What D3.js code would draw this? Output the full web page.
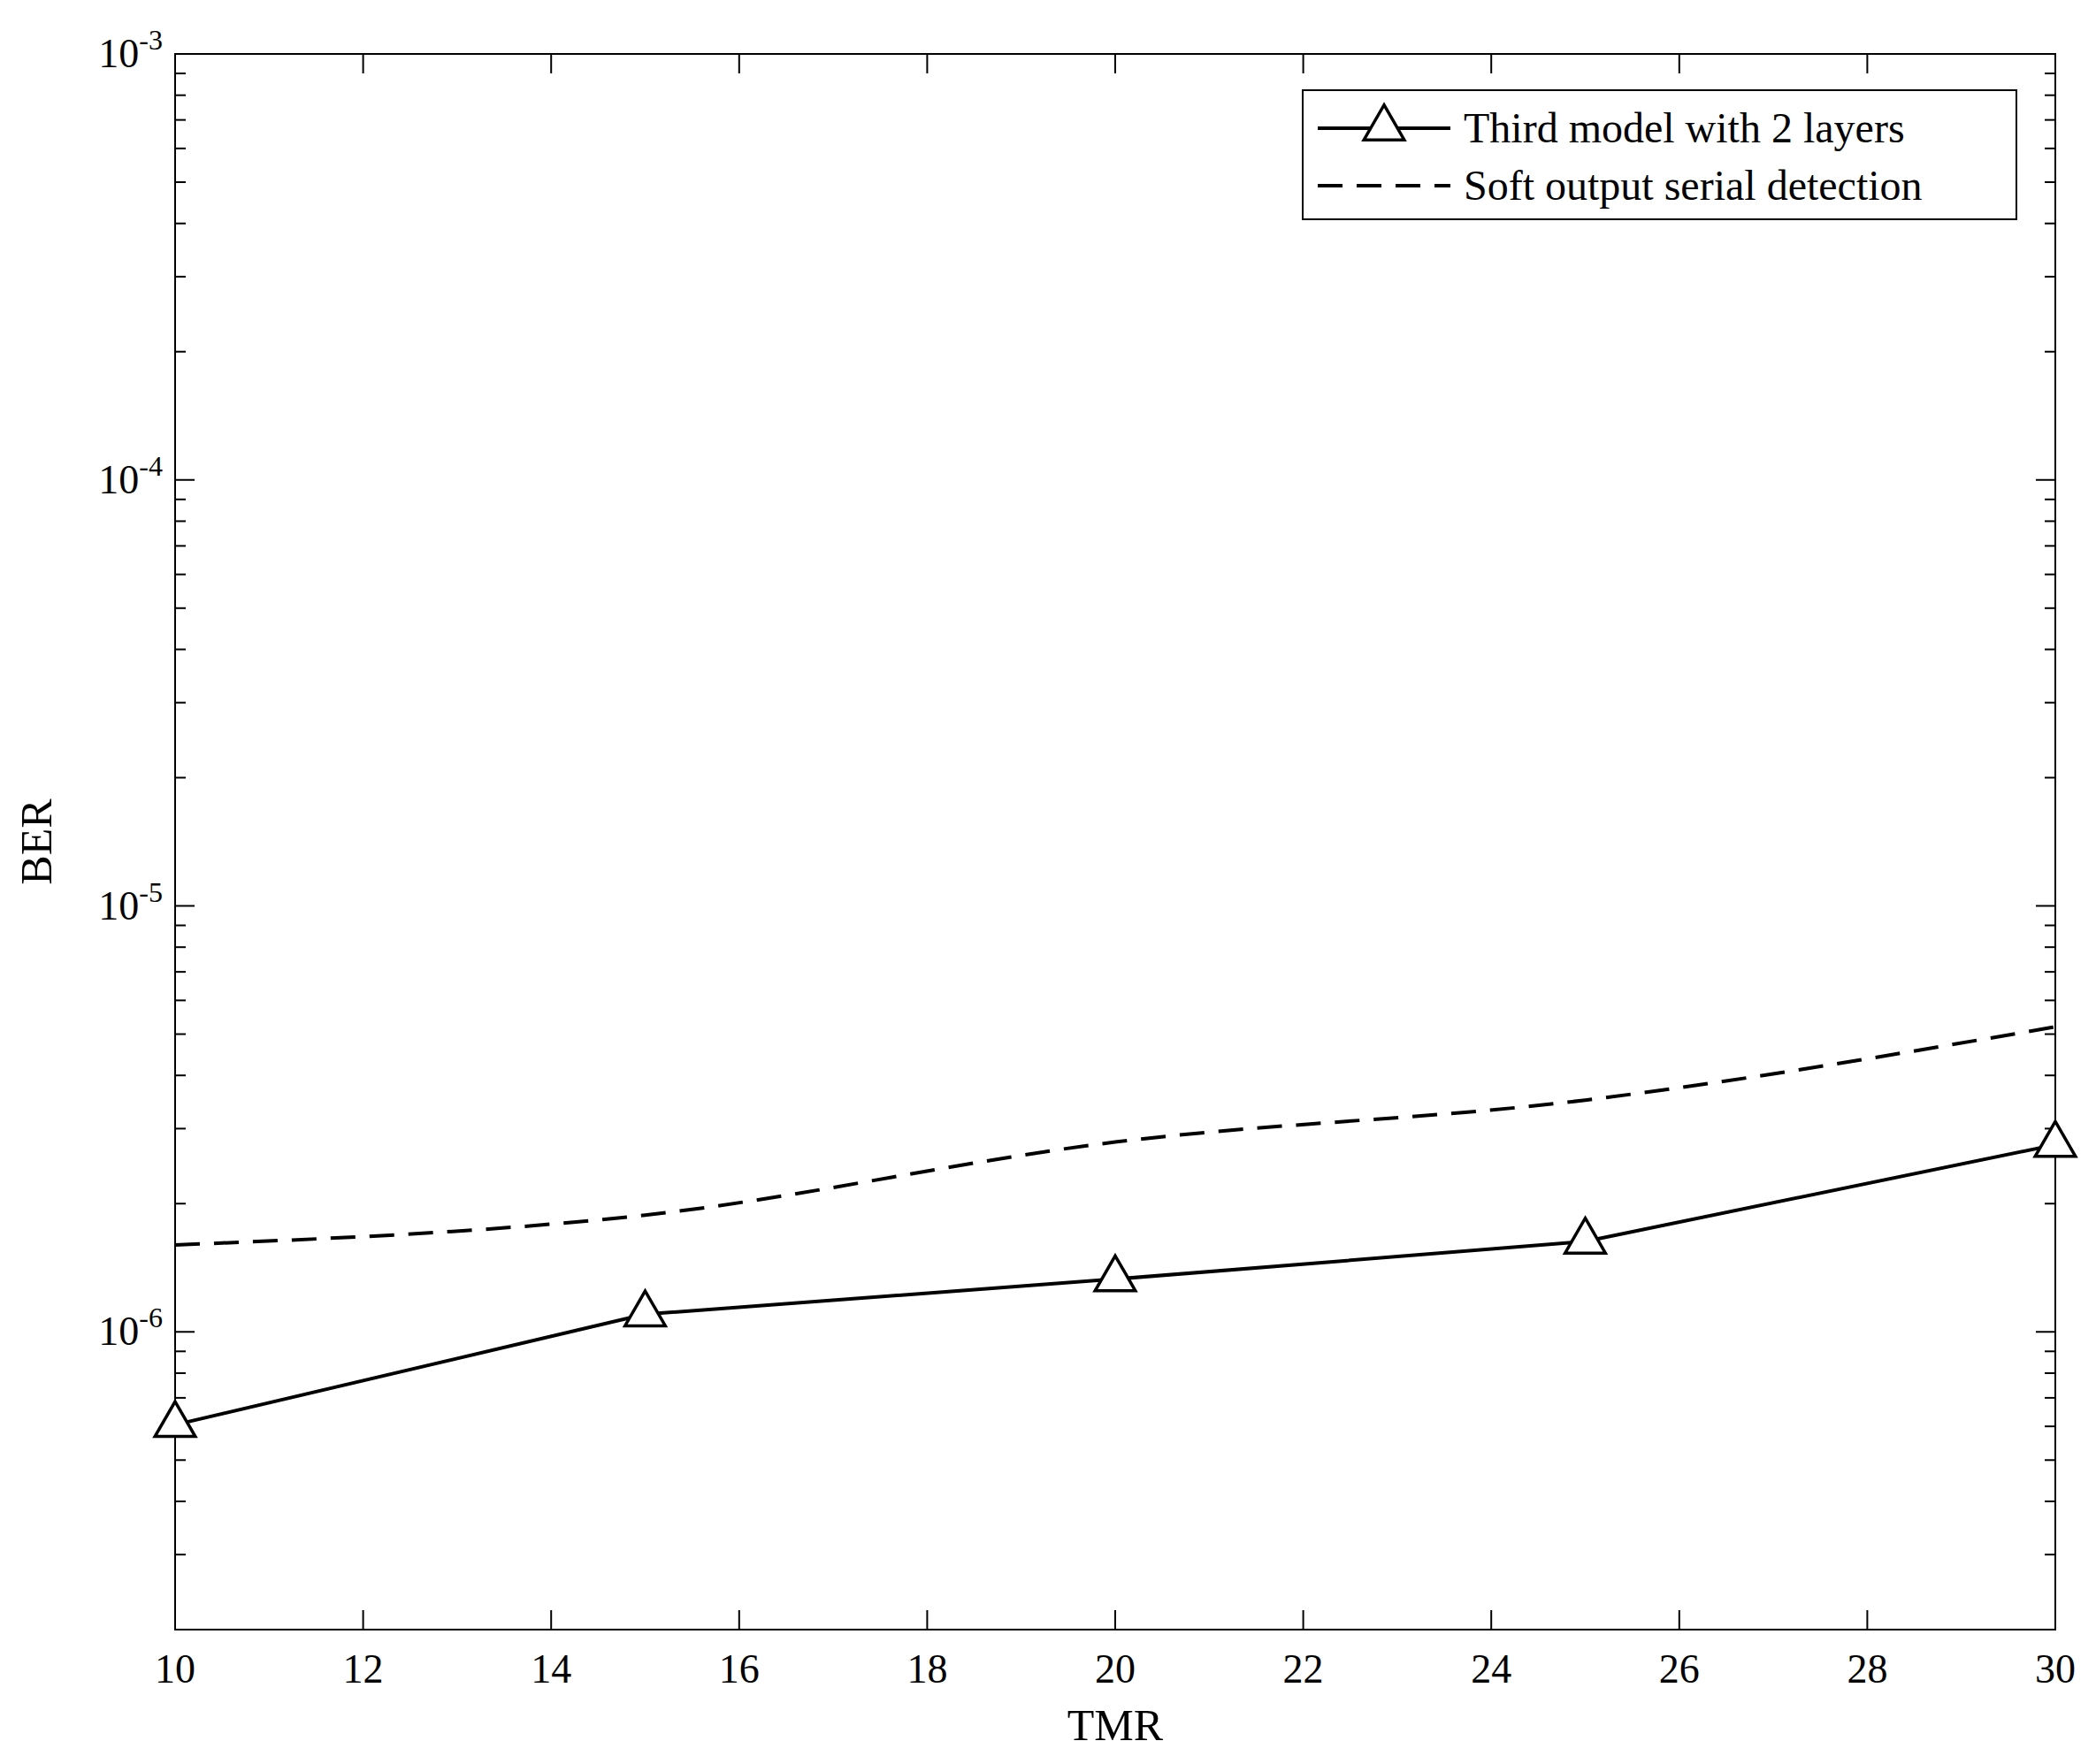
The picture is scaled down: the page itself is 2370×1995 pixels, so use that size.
<!DOCTYPE html>
<html><head><meta charset="utf-8">
<script src="https://cdn.jsdelivr.net/npm/d3@7"></script>
<style>body{margin:0;background:#fff}text{font-family:"Liberation Serif","Times New Roman",serif;fill:#000}</style>
</head><body><svg id="chart" width="2370" height="1995"></svg>
<script>
// data
const tmr = [10, 15, 20, 25, 30];
const thirdModel = [6.05e-7, 1.1e-6, 1.33e-6, 1.63e-6, 2.75e-6];
const softSerial = [1.6e-6, 1.88e-6, 2.79e-6, 3.5e-6, 5.2e-6];
const xTicks = [10, 12, 14, 16, 18, 20, 22, 24, 26, 28, 30];
const yDecades = [-6, -5, -4, -3];
const seriesNames = ["Third model with 2 layers", "Soft output serial detection"];

const svg = d3.select("#chart");
const m = {l: 198, r: 2324, t: 61, b: 1843};
const x = d3.scaleLinear().domain([10, 30]).range([m.l, m.r]);
const y = d3.scaleLog().domain([2e-7, 1e-3]).range([m.b, m.t]);

// minor log ticks
var minors = [];
for (var e = -7; e < -3; e++) for (var k = 2; k <= 9; k++) {
  var v = k * Math.pow(10, e);
  if (v >= 2e-7 && v <= 1e-3) minors.push(v);
}
var g = svg.append("g").attr("stroke", "#000").attr("stroke-width", 2);
minors.forEach(function(v) {
  g.append("line").attr("x1", m.l).attr("x2", m.l + 12).attr("y1", y(v)).attr("y2", y(v));
  g.append("line").attr("x1", m.r).attr("x2", m.r - 12).attr("y1", y(v)).attr("y2", y(v));
});
yDecades.forEach(function(d) {
  var v = Math.pow(10, d);
  g.append("line").attr("x1", m.l).attr("x2", m.l + 22).attr("y1", y(v)).attr("y2", y(v));
  g.append("line").attr("x1", m.r).attr("x2", m.r - 22).attr("y1", y(v)).attr("y2", y(v));
  var t = svg.append("text").attr("x", m.l - 14).attr("y", y(v) + 15).attr("text-anchor", "end").style("font-size", "46px");
  t.append("tspan").text("10");
  t.append("tspan").attr("dy", -20).style("font-size", "32px").text(d);
});
xTicks.forEach(function(v) {
  g.append("line").attr("x1", x(v)).attr("x2", x(v)).attr("y1", m.b).attr("y2", m.b - 22);
  g.append("line").attr("x1", x(v)).attr("x2", x(v)).attr("y1", m.t).attr("y2", m.t + 22);
  svg.append("text").attr("x", x(v)).attr("y", m.b + 60).attr("text-anchor", "middle").style("font-size", "46px").text(v);
});
svg.append("rect").attr("x", m.l).attr("y", m.t).attr("width", m.r - m.l).attr("height", m.b - m.t)
  .attr("fill", "none").attr("stroke", "#000").attr("stroke-width", 2);

svg.append("text").attr("x", (m.l + m.r) / 2).attr("y", 1968).attr("text-anchor", "middle").style("font-size", "50px").text("TMR");
svg.append("text").attr("transform", "translate(58," + ((m.t + m.b) / 2) + ") rotate(-90)").attr("text-anchor", "middle").style("font-size", "50px").text("BER");

var line1 = d3.line().x(function(d, i) { return x(tmr[i]); }).y(function(d) { return y(d); });
var line2 = d3.line().curve(d3.curveMonotoneX).x(function(d, i) { return x(tmr[i]); }).y(function(d) { return y(d); });
svg.append("path").datum(softSerial).attr("d", line2).attr("fill", "none").attr("stroke", "#000").attr("stroke-width", 4).attr("stroke-dasharray", "28,16");
svg.append("path").datum(thirdModel).attr("d", line1).attr("fill", "none").attr("stroke", "#000").attr("stroke-width", 4);

var tri = d3.symbol().type(d3.symbolTriangle).size(900);
svg.selectAll(".mk").data(thirdModel).enter().append("path")
  .attr("transform", function(d, i) { return "translate(" + x(tmr[i]) + "," + y(d) + ")"; })
  .attr("d", tri).attr("fill", "#fff").attr("stroke", "#000").attr("stroke-width", 3.5);

// legend
var lg = svg.append("g");
lg.append("rect").attr("x", 1473).attr("y", 102).attr("width", 807).attr("height", 146).attr("fill", "#fff").attr("stroke", "#000").attr("stroke-width", 2);
lg.append("line").attr("x1", 1490).attr("x2", 1640).attr("y1", 145).attr("y2", 145).attr("stroke", "#000").attr("stroke-width", 4);
lg.append("path").attr("transform", "translate(1565,145)").attr("d", tri).attr("fill", "#fff").attr("stroke", "#000").attr("stroke-width", 3.5);
lg.append("line").attr("x1", 1490).attr("x2", 1640).attr("y1", 210).attr("y2", 210).attr("stroke", "#000").attr("stroke-width", 4).attr("stroke-dasharray", "28,16");
seriesNames.forEach(function(n, i) {
  lg.append("text").attr("x", 1655).attr("y", 161 + i * 65).style("font-size", "48px").text(n);
});
</script></body></html>
